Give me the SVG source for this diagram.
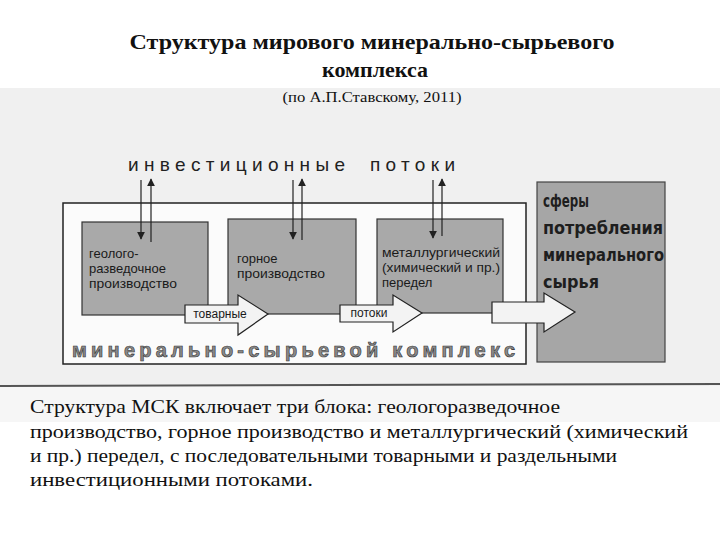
<svg xmlns="http://www.w3.org/2000/svg" width="720" height="540" viewBox="0 0 720 540">
<style>
.title{font-family:"Liberation Serif","Times New Roman",serif;font-weight:bold;font-size:22px;fill:#111}
.sub{font-family:"Liberation Serif","Times New Roman",serif;font-size:15px;fill:#111}
.body{font-family:"Liberation Serif","Times New Roman",serif;font-size:19px;fill:#111}
.lbl{font-family:"Liberation Sans",Arial,sans-serif;font-size:13px;fill:#1a1a1a}
.alb{font-family:"Liberation Sans",Arial,sans-serif;font-size:12px;fill:#1a1a1a}
.spaced{font-family:"Liberation Sans",Arial,sans-serif;font-size:19px;fill:#222}
.msk{font-family:"Liberation Sans",Arial,sans-serif;font-size:20px;font-weight:bold;fill:#8a8a8a;stroke:#333;stroke-width:0.6}
.sfer{font-family:"DejaVu Sans Condensed","DejaVu Sans","Liberation Sans",sans-serif;font-size:17px;font-weight:bold;fill:#1e1e1e}
.blk{fill:#a9a9a9;stroke:#333;stroke-width:1.2}
.big{fill:#f3f3f3;stroke:#222;stroke-width:1.2;stroke-linejoin:miter}
.ln{stroke:#222;stroke-width:1.2;fill:none}
</style>
<defs>
<marker id="ah" viewBox="0 0 10 10" refX="9" refY="5" markerWidth="8" markerHeight="10" markerUnits="userSpaceOnUse" orient="auto">
<path d="M0,0 L10,5 L0,10 z" fill="#222"/>
</marker>
</defs>
<rect width="720" height="540" fill="#ffffff"/>
<rect x="0" y="88" width="720" height="298" fill="#f0f0f0"/>
<rect x="0" y="386" width="720" height="36" fill="#f6f6f6"/>
<line x1="0" y1="386" x2="720" y2="384" stroke="#555" stroke-width="2"/>

<g id="title">
<text class="title" x="372" y="49" text-anchor="middle" textLength="485" lengthAdjust="spacingAndGlyphs">Структура мирового минерально-сырьевого</text>
<text class="title" x="375" y="77" text-anchor="middle">комплекса</text>
<text class="sub" x="372" y="102" text-anchor="middle" textLength="179" lengthAdjust="spacingAndGlyphs">(по А.П.Ставскому, 2011)</text>
</g>

<g id="invest-label">
<text class="spaced" x="128" y="171" textLength="217" lengthAdjust="spacing">инвестиционные</text>
<text class="spaced" x="370" y="171" textLength="85" lengthAdjust="spacing">потоки</text>
</g>

<g id="complex">
<rect x="63" y="203" width="463" height="161" fill="#fbfbfb" stroke="#222" stroke-width="1.5"/>
<text class="msk" x="72" y="357" textLength="443" lengthAdjust="spacing">минерально-сырьевой комплекс</text>
</g>

<g id="geo">
<rect class="blk" x="82" y="222" width="126" height="93"/>
<text class="lbl" x="89" y="258">геолого-</text>
<text class="lbl" x="89" y="273">разведочное</text>
<text class="lbl" x="89" y="288" textLength="88" lengthAdjust="spacingAndGlyphs">производство</text>
</g>

<g id="mining">
<rect class="blk" x="228" y="219" width="128" height="95"/>
<text class="lbl" x="237" y="263">горное</text>
<text class="lbl" x="237" y="278" textLength="88" lengthAdjust="spacingAndGlyphs">производство</text>
</g>

<g id="metal">
<rect class="blk" x="377" y="219" width="126" height="94"/>
<text class="lbl" x="382" y="257" textLength="118" lengthAdjust="spacingAndGlyphs">металлургический</text>
<text class="lbl" x="382" y="272" textLength="118" lengthAdjust="spacingAndGlyphs">(химический и пр.)</text>
<text class="lbl" x="382" y="287">передел</text>
</g>

<g id="consumption">
<rect x="537" y="182" width="128" height="180" fill="#a6a6a6" stroke="#444" stroke-width="1.2"/>
<text class="sfer" x="543" y="207" textLength="46" lengthAdjust="spacingAndGlyphs">сферы</text>
<text class="sfer" x="543" y="234" textLength="120" lengthAdjust="spacingAndGlyphs">потребления</text>
<text class="sfer" x="543" y="261" textLength="121" lengthAdjust="spacingAndGlyphs">минерального</text>
<text class="sfer" x="543" y="288" textLength="56" lengthAdjust="spacingAndGlyphs">сырья</text>
</g>

<g id="connectors">
<line class="ln" x1="141" y1="180" x2="141" y2="239" marker-end="url(#ah)"/>
<line class="ln" x1="151" y1="242" x2="151" y2="179" marker-end="url(#ah)"/>
<line class="ln" x1="293" y1="180" x2="293" y2="239" marker-end="url(#ah)"/>
<line class="ln" x1="302" y1="240" x2="302" y2="179" marker-end="url(#ah)"/>
<line class="ln" x1="433" y1="180" x2="433" y2="238" marker-end="url(#ah)"/>
<line class="ln" x1="442" y1="236" x2="442" y2="179" marker-end="url(#ah)"/>

<g id="flow1">
<path class="big" d="M185,305 L238,305 L238,295 L268,314 L238,335 L238,323 L185,323 Z"/>
<text class="alb" x="220" y="318" text-anchor="middle">товарные</text>
</g>
<g id="flow2">
<path class="big" d="M340,305 L393,305 L393,295 L422,313 L393,332 L393,322 L340,322 Z"/>
<text class="alb" x="369" y="317" text-anchor="middle">потоки</text>
</g>
<g id="flow3">
<path class="big" d="M492,302 L544,302 L544,293 L575,312 L544,332 L544,323 L492,323 Z"/>
</g>
</g>

<g id="caption">
<text class="body" x="30" y="413" textLength="530" lengthAdjust="spacingAndGlyphs">Структура МСК включает  три блока: геологоразведочное</text>
<text class="body" x="30" y="438" textLength="658" lengthAdjust="spacingAndGlyphs">производство, горное производство и металлургический (химический</text>
<text class="body" x="30" y="462" textLength="587" lengthAdjust="spacingAndGlyphs">и пр.) передел,  с последовательными товарными и раздельными</text>
<text class="body" x="30" y="486" textLength="283" lengthAdjust="spacingAndGlyphs">инвестиционными потоками.</text>
</g>
</svg>
